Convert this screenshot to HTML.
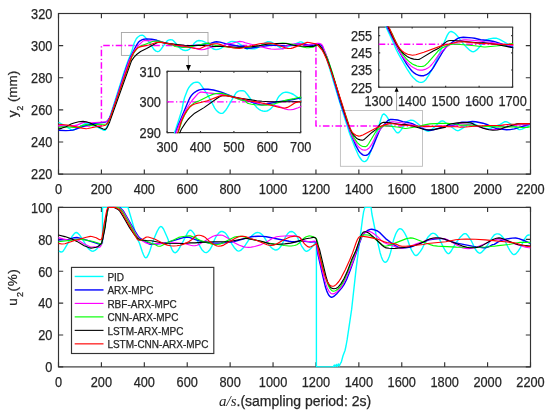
<!DOCTYPE html>
<html><head><meta charset="utf-8"><style>
html,body{margin:0;padding:0;background:#fff;}
svg{display:block;}
text{font-family:'Liberation Sans',Arial,Helvetica,sans-serif;font-size:14.3px;fill:#262626;stroke:#262626;stroke-width:0.25px;}
</style></head><body>
<svg width="550" height="414" viewBox="0 0 550 414">
<rect width="550" height="414" fill="#fff"/>
<defs><clipPath id="ct"><rect x="57.8" y="12.8" width="473.4" height="162.0"/></clipPath><clipPath id="cb"><rect x="57.8" y="206.70000000000002" width="473.4" height="160.89999999999998"/></clipPath><clipPath id="c1"><rect x="166.5" y="70.7" width="134.80" height="62.50"/></clipPath><clipPath id="c2"><rect x="378.09999999999997" y="26.5" width="135.10" height="61.30"/></clipPath></defs>
<rect x="58.5" y="13.5" width="472.0" height="160.6" fill="none" stroke="#333333" stroke-width="1.15"/>
<path d="M58.50 174.1v-4.7M58.50 13.5v4.7" stroke="#333333" stroke-width="1.15"/>
<text x="58.50" y="194.2" text-anchor="middle" textLength="7.1" lengthAdjust="spacingAndGlyphs">0</text>
<path d="M101.41 174.1v-4.7M101.41 13.5v4.7" stroke="#333333" stroke-width="1.15"/>
<text x="101.41" y="194.2" text-anchor="middle" textLength="21.3" lengthAdjust="spacingAndGlyphs">200</text>
<path d="M144.32 174.1v-4.7M144.32 13.5v4.7" stroke="#333333" stroke-width="1.15"/>
<text x="144.32" y="194.2" text-anchor="middle" textLength="21.3" lengthAdjust="spacingAndGlyphs">400</text>
<path d="M187.23 174.1v-4.7M187.23 13.5v4.7" stroke="#333333" stroke-width="1.15"/>
<text x="187.23" y="194.2" text-anchor="middle" textLength="21.3" lengthAdjust="spacingAndGlyphs">600</text>
<path d="M230.14 174.1v-4.7M230.14 13.5v4.7" stroke="#333333" stroke-width="1.15"/>
<text x="230.14" y="194.2" text-anchor="middle" textLength="21.3" lengthAdjust="spacingAndGlyphs">800</text>
<path d="M273.05 174.1v-4.7M273.05 13.5v4.7" stroke="#333333" stroke-width="1.15"/>
<text x="273.05" y="194.2" text-anchor="middle" textLength="28.4" lengthAdjust="spacingAndGlyphs">1000</text>
<path d="M315.95 174.1v-4.7M315.95 13.5v4.7" stroke="#333333" stroke-width="1.15"/>
<text x="315.95" y="194.2" text-anchor="middle" textLength="28.4" lengthAdjust="spacingAndGlyphs">1200</text>
<path d="M358.86 174.1v-4.7M358.86 13.5v4.7" stroke="#333333" stroke-width="1.15"/>
<text x="358.86" y="194.2" text-anchor="middle" textLength="28.4" lengthAdjust="spacingAndGlyphs">1400</text>
<path d="M401.77 174.1v-4.7M401.77 13.5v4.7" stroke="#333333" stroke-width="1.15"/>
<text x="401.77" y="194.2" text-anchor="middle" textLength="28.4" lengthAdjust="spacingAndGlyphs">1600</text>
<path d="M444.68 174.1v-4.7M444.68 13.5v4.7" stroke="#333333" stroke-width="1.15"/>
<text x="444.68" y="194.2" text-anchor="middle" textLength="28.4" lengthAdjust="spacingAndGlyphs">1800</text>
<path d="M487.59 174.1v-4.7M487.59 13.5v4.7" stroke="#333333" stroke-width="1.15"/>
<text x="487.59" y="194.2" text-anchor="middle" textLength="28.4" lengthAdjust="spacingAndGlyphs">2000</text>
<path d="M530.50 174.1v-4.7M530.50 13.5v4.7" stroke="#333333" stroke-width="1.15"/>
<text x="530.50" y="194.2" text-anchor="middle" textLength="28.4" lengthAdjust="spacingAndGlyphs">2200</text>
<path d="M58.5 174.10h4.7M530.5 174.10h-4.7" stroke="#333333" stroke-width="1.15"/>
<text x="52.4" y="179.40" text-anchor="end" textLength="21.3" lengthAdjust="spacingAndGlyphs">220</text>
<path d="M58.5 141.98h4.7M530.5 141.98h-4.7" stroke="#333333" stroke-width="1.15"/>
<text x="52.4" y="147.28" text-anchor="end" textLength="21.3" lengthAdjust="spacingAndGlyphs">240</text>
<path d="M58.5 109.86h4.7M530.5 109.86h-4.7" stroke="#333333" stroke-width="1.15"/>
<text x="52.4" y="115.16" text-anchor="end" textLength="21.3" lengthAdjust="spacingAndGlyphs">260</text>
<path d="M58.5 77.74h4.7M530.5 77.74h-4.7" stroke="#333333" stroke-width="1.15"/>
<text x="52.4" y="83.04" text-anchor="end" textLength="21.3" lengthAdjust="spacingAndGlyphs">280</text>
<path d="M58.5 45.62h4.7M530.5 45.62h-4.7" stroke="#333333" stroke-width="1.15"/>
<text x="52.4" y="50.92" text-anchor="end" textLength="21.3" lengthAdjust="spacingAndGlyphs">300</text>
<path d="M58.5 13.50h4.7M530.5 13.50h-4.7" stroke="#333333" stroke-width="1.15"/>
<text x="52.4" y="18.80" text-anchor="end" textLength="21.3" lengthAdjust="spacingAndGlyphs">320</text>
<text transform="translate(17.2 94) rotate(-90)" text-anchor="middle" style="font-size:13.5px">y<tspan font-size="8.5" dy="6">2</tspan><tspan dy="-6"> (mm)</tspan></text>
<g fill="none" stroke="#a4a4a4" stroke-width="0.9">
<rect x="121.4" y="32.5" width="86.6" height="22.9"/>
<rect x="340.4" y="110.5" width="82.1" height="55.8" stroke="#bcbcbc"/>
</g>
<g clip-path="url(#ct)" fill="none" stroke-width="1.3" stroke-linejoin="round">
<path d="M58.50 125.92H101.41V45.62H315.95V125.92H530.50" stroke="#ff00ff" stroke-width="1.5" stroke-dasharray="6.6 2.3 1.3 2.3"/>
<path d="M58.6 122.4L65.9 126.3L70.6 129.4L72.3 130.0L73.6 129.9L74.9 129.4L84.3 124.0L86.1 123.3L87.4 123.2L89.1 123.4L90.8 124.0L96.4 126.5L104.1 130.3L104.9 130.4L105.4 130.0L106.2 128.6L107.5 125.2L110.5 114.9L123.8 73.0L127.3 62.7L132.4 49.6L133.3 45.9L134.1 43.3L136.3 38.8L137.6 37.2L139.7 35.7L140.6 35.4L141.9 35.3L142.7 35.3L143.6 35.7L144.9 36.9L149.2 42.2L153.9 49.4L156.0 51.1L157.7 51.7L159.0 51.3L160.7 49.7L167.2 40.8L168.5 40.1L170.2 39.7L172.3 39.9L173.2 40.5L175.8 43.2L179.6 47.7L181.3 49.2L183.1 50.0L185.2 50.5L187.3 50.3L189.5 49.1L192.5 46.2L194.2 43.2L195.1 42.4L197.2 40.9L198.9 40.5L201.9 40.9L204.5 41.9L208.4 44.4L211.4 47.5L212.7 48.5L214.4 49.3L216.1 49.6L218.2 49.3L220.8 48.3L223.4 46.7L228.5 42.6L230.3 41.8L232.4 41.4L235.0 41.7L237.6 42.6L245.7 48.4L247.0 49.2L247.4 49.2L248.7 48.5L252.2 48.9L254.7 48.7L256.4 48.3L257.7 47.6L261.6 45.0L265.5 42.7L267.2 41.8L268.5 41.6L270.6 41.9L272.3 42.6L276.2 44.9L280.9 48.1L282.6 48.7L283.5 48.6L300.2 41.9L301.1 41.9L301.9 42.2L306.2 44.6L312.7 46.5L313.9 46.3L316.5 44.9L317.8 45.0L320.4 47.9L322.1 48.5L323.0 49.2L324.2 51.6L326.4 57.7L339.3 100.8L349.6 133.5L355.1 147.8L358.2 154.8L359.4 157.0L361.6 160.0L362.4 160.8L363.7 161.5L364.6 161.6L365.4 161.4L366.7 160.4L367.6 159.1L369.3 155.3L373.6 143.6L381.3 117.7L382.2 115.4L382.6 114.7L383.5 114.0L383.9 114.0L384.8 114.4L386.5 116.1L387.8 118.1L391.2 124.6L393.3 128.1L395.9 131.7L396.8 132.5L397.6 132.9L398.1 132.9L398.9 132.5L400.6 130.6L402.4 128.0L404.5 123.7L405.4 122.6L407.5 121.3L410.1 120.3L411.4 120.1L413.1 120.4L414.8 121.3L419.1 124.8L423.8 129.3L426.0 130.6L428.1 131.3L429.8 130.8L431.5 129.8L439.7 122.1L441.0 121.2L442.3 120.9L443.1 121.0L444.4 121.7L448.3 124.8L454.3 129.0L456.4 130.3L457.7 130.7L459.0 130.4L462.4 128.4L467.6 124.5L469.3 123.9L471.5 123.6L472.7 123.6L474.0 123.8L482.6 127.9L486.5 128.5L489.0 128.6L490.8 128.3L492.5 127.7L496.3 125.8L500.2 124.3L504.1 122.0L504.9 121.7L506.2 121.7L507.5 122.1L509.2 123.0L517.8 128.9L519.1 129.5L519.9 129.6L522.1 129.1L529.8 125.3" stroke="#00ffff" stroke-width="1.4"/>
<path d="M58.6 130.2L65.9 130.6L70.2 130.4L72.8 130.1L74.5 129.6L85.6 125.5L95.5 123.2L105.4 122.1L106.7 121.6L107.5 120.9L109.2 118.5L111.0 114.7L115.2 102.1L126.4 67.5L128.6 61.4L130.3 57.4L136.7 44.8L138.4 42.3L140.1 40.8L142.3 39.7L144.0 39.2L146.6 38.9L151.7 39.2L156.9 40.3L165.0 42.9L172.8 44.5L181.8 46.9L183.5 47.1L194.6 45.4L201.5 44.7L208.4 43.4L211.0 43.1L214.8 42.0L216.5 41.8L220.0 42.1L226.4 43.9L238.8 46.3L243.6 46.2L244.0 46.3L244.9 48.1L245.7 48.2L251.3 48.0L269.7 45.3L275.8 45.3L284.3 46.0L286.1 45.9L292.9 44.6L298.5 43.9L312.7 45.2L313.9 45.1L316.5 44.1L317.8 43.9L319.1 44.2L320.4 44.7L321.7 45.7L322.5 46.9L325.5 53.7L327.3 58.3L330.7 69.0L340.6 103.2L350.0 130.9L352.6 137.8L356.0 145.9L358.6 150.7L359.9 152.4L361.2 153.6L362.9 154.9L364.2 155.4L365.9 155.4L367.2 155.0L368.5 154.0L369.7 152.5L371.0 150.5L372.3 148.0L378.8 132.2L380.5 128.7L381.8 127.1L387.3 121.1L389.1 119.9L390.3 119.5L392.1 119.4L397.6 120.0L402.8 121.6L406.2 122.1L410.5 123.1L412.2 123.7L421.2 128.1L426.0 129.7L429.4 130.3L431.1 130.2L433.3 129.8L442.3 127.1L453.4 125.0L457.3 123.8L459.9 122.6L462.0 122.3L467.2 122.2L472.3 121.5L475.7 121.7L483.0 123.2L486.9 124.5L492.9 127.4L495.5 128.2L506.6 129.8L510.1 129.6L514.4 128.9L529.8 124.2" stroke="#0000ff" stroke-width="1.4"/>
<path d="M58.6 125.6L72.8 126.1L77.5 124.9L81.8 123.1L83.9 122.5L86.1 122.4L90.4 122.7L103.2 122.0L106.7 121.5L108.0 120.7L109.7 118.1L111.4 114.0L126.0 69.6L129.4 60.0L134.1 51.1L138.4 45.3L142.7 41.3L143.6 40.7L144.9 40.4L159.9 41.8L167.2 43.6L172.8 45.2L173.2 45.2L174.5 44.7L178.8 45.8L182.6 46.5L191.6 47.4L195.1 48.1L198.9 49.4L201.5 49.8L204.5 49.4L210.5 47.5L212.7 47.0L216.5 46.4L221.7 46.1L226.4 44.1L232.4 43.2L237.6 41.7L239.7 41.4L242.7 41.7L245.3 42.8L267.6 48.4L271.0 49.0L274.9 49.3L281.8 48.9L284.3 48.4L285.2 48.1L286.5 46.4L287.3 45.7L290.3 44.5L292.9 44.0L296.8 43.8L299.8 43.9L304.1 45.0L305.8 45.2L307.9 44.9L312.7 43.9L317.8 43.3L319.1 43.4L321.2 44.1L322.1 44.9L323.0 46.6L327.3 57.8L331.5 71.4L342.3 107.1L347.9 124.5L350.9 133.2L352.1 136.2L354.3 140.4L357.3 145.3L358.6 146.8L360.3 148.4L362.0 149.6L363.3 150.0L365.0 150.1L366.7 149.7L368.5 148.6L369.7 147.3L371.9 144.2L375.3 136.9L377.5 133.2L379.6 130.1L381.8 127.6L383.9 125.8L386.9 123.8L389.9 122.4L392.1 121.8L393.3 121.7L403.2 123.0L404.9 123.7L408.4 124.0L410.9 124.5L417.8 126.3L420.8 126.8L424.2 127.0L438.0 126.3L441.4 126.3L444.8 125.9L448.7 126.1L454.3 126.0L457.3 125.6L459.9 123.6L462.0 123.8L473.2 125.1L486.5 129.0L489.0 129.5L496.8 129.4L498.9 129.3L500.6 128.9L504.5 127.5L516.1 125.2L521.2 124.7L526.8 124.7L529.8 124.2" stroke="#ff00ff" stroke-width="1.15"/>
<path d="M58.6 127.3L62.0 126.9L65.0 126.8L73.6 127.4L76.2 127.4L77.9 127.2L81.8 125.7L86.1 124.6L87.4 124.7L89.5 125.4L90.8 125.6L96.4 124.4L104.9 124.3L106.2 124.0L107.1 123.5L108.8 121.1L111.0 116.3L130.3 61.0L132.0 56.5L133.7 53.1L135.4 50.6L137.1 48.6L138.4 47.4L140.1 46.2L152.6 41.5L154.3 41.2L156.9 41.0L158.2 41.1L163.7 42.5L170.2 44.6L172.8 44.9L174.5 46.3L175.3 46.5L178.3 47.0L182.6 47.2L187.3 47.3L189.5 47.1L199.4 44.7L208.4 43.1L210.5 44.2L215.7 45.4L221.3 46.4L233.7 47.8L248.3 47.2L259.4 45.7L266.7 44.2L274.0 43.8L282.6 43.0L286.1 43.2L290.8 44.0L295.5 45.0L303.6 47.2L306.7 47.8L308.8 47.7L312.7 47.1L317.4 45.5L318.2 45.5L319.1 45.8L321.2 47.8L323.4 50.8L326.8 57.0L328.5 61.1L332.4 72.7L341.4 103.3L346.6 117.7L350.0 128.7L351.7 133.1L354.3 138.2L357.3 142.6L359.9 145.0L361.6 146.0L362.9 146.5L365.4 146.6L366.3 146.3L367.2 145.7L368.9 143.2L375.3 132.5L376.6 130.7L377.9 129.5L382.2 126.6L383.0 126.2L384.3 125.9L386.0 125.8L388.2 126.0L398.9 127.3L404.9 128.5L405.8 128.5L416.9 126.8L420.0 126.2L423.4 125.1L429.8 123.9L441.0 123.4L447.4 123.3L457.3 124.3L459.9 125.1L466.7 125.1L471.9 125.3L481.3 126.2L496.3 126.9L516.1 126.9L520.8 127.4L523.8 127.5L527.2 127.4L529.8 126.9" stroke="#00ff00" stroke-width="1.15"/>
<path d="M58.6 129.1L62.0 128.1L65.5 126.9L71.0 124.1L74.0 123.0L78.8 121.8L83.1 121.4L86.1 121.7L89.5 122.7L96.8 126.3L103.2 129.0L104.9 129.4L105.8 129.0L106.7 128.1L107.5 126.8L109.7 121.9L131.6 60.6L134.1 57.2L136.3 54.8L140.6 51.5L146.6 48.6L156.0 43.2L157.7 42.5L159.5 42.2L169.3 43.6L184.3 45.3L188.6 45.5L208.4 45.5L213.1 46.5L218.7 46.5L223.4 46.2L236.7 47.3L243.6 47.3L245.7 47.0L251.7 46.8L259.0 45.7L268.0 44.0L273.2 43.5L286.1 43.5L293.3 45.2L300.2 46.0L307.5 46.5L313.1 46.4L317.0 44.8L317.8 44.7L318.7 44.9L320.4 46.4L322.1 48.8L326.4 57.6L329.0 64.1L334.5 80.6L346.6 119.8L349.6 127.7L351.7 132.2L353.0 134.2L354.3 135.9L356.0 137.7L357.3 138.7L358.6 139.4L360.3 139.9L362.4 140.2L363.7 139.8L372.3 132.2L376.2 129.4L379.6 124.8L380.9 123.4L382.2 122.7L383.5 122.4L385.2 122.4L389.5 122.8L401.1 124.6L404.9 124.4L412.7 126.0L424.2 129.5L428.1 130.0L433.7 129.6L444.8 127.4L445.7 127.0L447.4 125.2L448.3 124.7L451.7 123.8L457.3 122.9L468.0 122.5L470.2 122.7L471.5 123.1L474.5 124.7L483.9 128.4L489.0 129.8L492.9 130.2L497.2 130.0L499.8 129.5L504.5 127.5L516.9 123.9L519.9 123.6L529.8 123.6" stroke="#000000" stroke-width="1.1"/>
<path d="M58.6 124.2L67.2 125.0L82.2 128.1L86.1 128.7L87.8 128.5L96.4 126.8L103.2 125.8L105.4 125.2L106.2 124.6L107.1 123.7L108.4 121.7L110.5 116.9L130.3 60.2L132.0 55.9L133.7 52.7L135.0 50.9L136.7 48.8L137.6 48.1L139.3 47.1L141.0 46.6L148.7 45.0L156.4 42.5L159.0 42.2L161.2 42.4L172.8 44.2L174.5 45.0L179.2 45.4L183.1 46.0L195.1 48.5L197.6 48.8L199.4 48.7L200.7 48.3L205.4 45.9L207.9 45.5L211.8 44.1L214.8 43.7L217.4 43.8L220.0 44.4L225.5 46.5L235.4 48.2L239.3 48.4L241.4 48.2L243.6 47.7L245.3 46.7L251.7 45.8L259.4 43.8L266.3 43.0L270.2 43.1L273.6 43.6L277.0 44.7L285.6 48.0L287.3 48.4L289.1 48.5L291.2 48.4L292.9 47.9L307.1 42.4L309.2 42.5L315.2 43.7L316.5 44.2L318.2 45.5L322.1 50.0L324.2 53.9L326.4 58.7L330.7 70.1L335.0 82.3L342.3 104.4L347.0 119.9L348.7 124.8L350.4 128.9L351.7 131.3L353.4 133.5L356.0 135.2L358.6 136.1L360.3 135.9L362.9 135.0L376.2 128.1L378.3 127.1L385.6 124.6L389.9 123.6L392.9 123.7L403.2 125.2L404.9 125.2L411.4 125.7L423.0 126.3L445.3 126.3L447.8 126.7L457.3 126.7L460.3 127.3L465.9 127.0L474.0 126.2L487.3 125.5L500.6 125.4L504.5 124.8L510.5 124.2L515.7 124.2L520.8 123.6L529.8 123.6" stroke="#ff0000" stroke-width="1.15"/>
</g>
<rect x="167.1" y="71.3" width="133.60" height="61.30" fill="#fff" stroke="#333333" stroke-width="1.15"/>
<path d="M167.10 132.6v-1.5M167.10 71.3v1.5" stroke="#333333" stroke-width="1.15"/>
<text x="167.10" y="151.8" text-anchor="middle" textLength="21.3" lengthAdjust="spacingAndGlyphs">300</text>
<path d="M200.50 132.6v-1.5M200.50 71.3v1.5" stroke="#333333" stroke-width="1.15"/>
<text x="200.50" y="151.8" text-anchor="middle" textLength="21.3" lengthAdjust="spacingAndGlyphs">400</text>
<path d="M233.90 132.6v-1.5M233.90 71.3v1.5" stroke="#333333" stroke-width="1.15"/>
<text x="233.90" y="151.8" text-anchor="middle" textLength="21.3" lengthAdjust="spacingAndGlyphs">500</text>
<path d="M267.30 132.6v-1.5M267.30 71.3v1.5" stroke="#333333" stroke-width="1.15"/>
<text x="267.30" y="151.8" text-anchor="middle" textLength="21.3" lengthAdjust="spacingAndGlyphs">600</text>
<path d="M300.70 132.6v-1.5M300.70 71.3v1.5" stroke="#333333" stroke-width="1.15"/>
<text x="300.70" y="151.8" text-anchor="middle" textLength="21.3" lengthAdjust="spacingAndGlyphs">700</text>
<path d="M167.1 132.60h1.5M300.7 132.60h-1.5" stroke="#333333" stroke-width="1.15"/>
<text x="160.9" y="137.90" text-anchor="end" textLength="21.3" lengthAdjust="spacingAndGlyphs">290</text>
<path d="M167.1 101.95h1.5M300.7 101.95h-1.5" stroke="#333333" stroke-width="1.15"/>
<text x="160.9" y="107.25" text-anchor="end" textLength="21.3" lengthAdjust="spacingAndGlyphs">300</text>
<path d="M167.1 71.30h1.5M300.7 71.30h-1.5" stroke="#333333" stroke-width="1.15"/>
<text x="160.9" y="76.60" text-anchor="end" textLength="21.3" lengthAdjust="spacingAndGlyphs">310</text>
<g clip-path="url(#c1)" fill="none" stroke-width="1.3" stroke-linejoin="round">
<path d="M167.1 101.95H300.7" stroke="#ff00ff" stroke-dasharray="6.6 2.3 1.3 2.3"/>
<path d="M163.9 172.1L174.0 134.6L179.3 118.3L182.0 109.5L183.3 102.4L184.6 97.5L187.3 90.4L188.7 87.7L190.7 85.1L192.7 83.4L194.0 82.6L196.0 82.2L198.0 82.3L198.7 82.5L200.0 83.6L202.0 86.3L207.4 94.3L210.7 100.3L214.7 108.1L216.0 109.9L218.0 111.9L219.4 112.9L220.7 113.4L222.1 113.4L223.4 112.8L226.1 109.7L227.4 107.6L234.8 94.8L236.1 92.8L236.8 92.2L238.1 91.4L239.4 90.9L240.8 90.7L243.4 90.8L244.8 91.4L247.4 94.5L254.8 105.0L256.8 107.5L259.5 109.7L260.8 110.4L262.8 111.0L264.8 111.2L266.8 111.0L268.2 110.5L270.2 109.2L272.8 106.5L275.5 103.0L277.5 98.7L278.8 96.6L280.8 94.5L282.2 93.4L283.5 92.7L284.9 92.3L286.9 92.3L289.5 92.8L291.5 93.5L293.5 94.5L296.9 96.8L299.6 99.0L300.9 100.4L303.6 103.8" stroke="#00ffff" stroke-width="1.4"/>
<path d="M163.9 176.5L174.6 136.6L176.6 130.0L178.6 124.5L188.7 100.3L190.0 97.6L191.3 95.6L192.7 94.0L194.7 92.3L196.7 91.0L199.3 89.9L203.3 89.1L208.0 89.3L213.4 90.0L221.4 92.2L232.7 96.7L244.8 99.8L258.8 104.4L261.5 104.9L262.8 104.8L278.8 101.6L287.5 100.5L294.2 99.2L300.2 97.7L303.6 97.3" stroke="#0000ff" stroke-width="1.4"/>
<path d="M163.9 177.9L175.3 135.6L176.6 131.3L178.6 126.1L184.0 113.8L186.6 108.8L192.0 100.5L198.0 93.6L199.3 92.6L200.7 92.1L202.0 92.1L208.0 92.9L224.1 94.6L226.7 95.2L236.1 98.1L240.8 99.9L244.1 101.0L245.4 101.2L247.4 100.2L254.1 102.3L260.1 103.7L264.1 104.3L270.8 104.8L274.2 105.3L278.8 106.4L284.9 108.9L288.2 109.7L290.9 109.8L293.5 109.4L298.2 107.8L303.6 105.5" stroke="#ff00ff" stroke-width="1.15"/>
<path d="M163.9 182.9L178.6 131.3L182.0 120.8L184.6 115.0L188.0 109.5L190.7 106.0L192.7 104.1L194.0 103.1L195.3 102.4L199.3 100.8L209.4 95.8L213.4 94.1L216.0 93.5L219.4 93.2L222.1 93.4L230.7 96.0L240.8 99.9L244.8 100.7L245.4 101.0L247.4 103.2L251.5 104.3L254.8 104.7L266.2 105.1L270.2 104.8L274.8 103.7L286.2 100.1L294.2 98.6L299.6 97.2L300.2 97.1L300.9 97.4L303.6 99.3" stroke="#00ff00" stroke-width="1.15"/>
<path d="M163.9 187.8L180.0 132.4L181.3 129.2L185.3 123.1L188.0 119.5L190.0 117.4L194.7 113.2L204.0 107.6L218.7 97.3L220.7 96.3L222.1 95.8L224.7 95.5L238.8 98.0L256.8 100.7L262.1 101.3L269.5 101.7L300.2 101.7L303.6 102.5" stroke="#000000" stroke-width="1.1"/>
<path d="M163.9 181.6L178.0 132.1L181.3 121.5L184.0 115.5L186.6 110.9L189.3 107.3L192.0 105.2L194.7 104.0L207.4 100.7L219.4 96.1L222.7 95.4L226.1 95.6L244.8 99.3L245.4 99.5L247.4 100.7L254.8 101.6L260.8 102.8L270.8 105.1L279.5 107.5L282.9 108.0L285.5 107.9L287.5 107.4L290.9 105.6L295.5 102.6L299.6 101.8L303.6 99.8" stroke="#ff0000" stroke-width="1.15"/>
</g>
<rect x="378.7" y="27.1" width="133.90" height="60.10" fill="#fff" stroke="#333333" stroke-width="1.15"/>
<path d="M378.70 87.2v-1.5M378.70 27.1v1.5" stroke="#333333" stroke-width="1.15"/>
<text x="378.70" y="106.4" text-anchor="middle" textLength="28.4" lengthAdjust="spacingAndGlyphs">1300</text>
<path d="M412.18 87.2v-1.5M412.18 27.1v1.5" stroke="#333333" stroke-width="1.15"/>
<text x="412.18" y="106.4" text-anchor="middle" textLength="28.4" lengthAdjust="spacingAndGlyphs">1400</text>
<path d="M445.65 87.2v-1.5M445.65 27.1v1.5" stroke="#333333" stroke-width="1.15"/>
<text x="445.65" y="106.4" text-anchor="middle" textLength="28.4" lengthAdjust="spacingAndGlyphs">1500</text>
<path d="M479.12 87.2v-1.5M479.12 27.1v1.5" stroke="#333333" stroke-width="1.15"/>
<text x="479.12" y="106.4" text-anchor="middle" textLength="28.4" lengthAdjust="spacingAndGlyphs">1600</text>
<path d="M512.60 87.2v-1.5M512.60 27.1v1.5" stroke="#333333" stroke-width="1.15"/>
<text x="512.60" y="106.4" text-anchor="middle" textLength="28.4" lengthAdjust="spacingAndGlyphs">1700</text>
<path d="M378.7 87.20h1.5M512.6 87.20h-1.5" stroke="#333333" stroke-width="1.15"/>
<text x="372.2" y="92.50" text-anchor="end" textLength="21.3" lengthAdjust="spacingAndGlyphs">225</text>
<path d="M378.7 70.03h1.5M512.6 70.03h-1.5" stroke="#333333" stroke-width="1.15"/>
<text x="372.2" y="75.33" text-anchor="end" textLength="21.3" lengthAdjust="spacingAndGlyphs">235</text>
<path d="M378.7 52.86h1.5M512.6 52.86h-1.5" stroke="#333333" stroke-width="1.15"/>
<text x="372.2" y="58.16" text-anchor="end" textLength="21.3" lengthAdjust="spacingAndGlyphs">245</text>
<path d="M378.7 35.69h1.5M512.6 35.69h-1.5" stroke="#333333" stroke-width="1.15"/>
<text x="372.2" y="40.99" text-anchor="end" textLength="21.3" lengthAdjust="spacingAndGlyphs">255</text>
<g clip-path="url(#c2)" fill="none" stroke-width="1.3" stroke-linejoin="round">
<path d="M378.7 44.27H512.6" stroke="#ff00ff" stroke-dasharray="6.6 2.3 1.3 2.3"/>
<path d="M375.6 3.6L384.3 23.4L392.3 40.3L396.3 49.7L399.0 54.9L407.0 68.8L411.1 75.1L413.1 77.5L415.8 80.1L417.1 81.2L419.1 82.1L420.4 82.4L421.8 82.4L423.8 81.6L425.8 79.7L428.5 75.7L432.5 68.5L435.2 63.2L447.2 35.4L448.6 33.1L449.2 32.3L450.6 31.5L451.2 31.5L452.6 32.0L453.9 32.7L455.3 33.8L457.3 35.9L462.6 42.9L465.3 45.9L470.0 50.4L472.0 51.6L473.3 51.7L474.0 51.6L475.3 50.9L476.7 49.9L480.0 46.5L483.4 41.9L484.7 40.8L486.1 40.0L488.1 39.3L493.4 38.1L496.1 38.2L499.5 39.3L506.1 43.0L512.8 47.6L515.5 48.8" stroke="#00ffff" stroke-width="1.4"/>
<path d="M375.6 1.1L380.9 14.0L385.0 22.8L392.3 37.1L398.3 49.6L402.4 57.0L407.0 64.7L411.1 70.1L412.4 71.5L414.4 73.1L416.4 74.3L418.4 75.2L421.1 75.8L423.8 75.7L426.5 74.7L429.1 72.7L431.2 70.6L433.2 67.9L443.2 51.0L445.9 47.3L447.9 45.5L455.9 39.6L457.9 38.4L459.9 37.6L463.3 37.3L472.0 37.9L474.7 38.3L480.7 39.7L486.1 40.2L492.8 41.2L495.4 41.9L508.2 46.2L515.5 48.0" stroke="#0000ff" stroke-width="1.4"/>
<path d="M375.6 -0.2L387.0 25.6L395.0 42.8L399.7 52.1L401.7 55.3L404.4 58.9L407.0 62.2L409.1 64.3L411.1 66.1L413.1 67.5L417.1 69.6L419.8 70.1L422.4 70.1L425.1 69.4L427.8 68.1L429.8 66.6L431.8 64.5L433.8 62.0L438.5 55.2L442.5 50.6L445.2 48.1L448.6 45.6L452.6 43.5L456.6 41.8L461.3 40.4L464.0 39.9L466.0 39.8L481.4 41.1L484.1 41.9L489.4 42.3L493.4 42.8L504.8 44.8L510.2 45.3L515.5 45.5" stroke="#ff00ff" stroke-width="1.15"/>
<path d="M375.6 -1.7L380.9 11.1L385.0 20.1L387.6 25.5L392.3 34.1L397.7 45.9L400.4 50.8L403.7 55.7L406.4 58.9L408.4 60.9L410.4 62.6L412.4 63.9L414.4 64.9L417.1 66.0L419.1 66.4L421.8 66.5L423.8 66.1L425.1 65.4L427.8 62.8L437.8 51.3L439.9 49.4L441.9 48.1L447.9 45.3L449.9 44.5L453.3 44.2L457.3 44.3L474.7 45.8L484.1 47.0L485.4 47.0L503.5 45.2L515.5 43.0" stroke="#00ff00" stroke-width="1.15"/>
<path d="M375.6 -1.3L392.3 36.3L396.3 44.0L399.7 49.2L403.0 53.2L407.0 56.4L409.1 57.6L411.1 58.4L413.7 59.1L417.1 59.5L418.4 59.5L419.8 59.1L433.2 51.0L439.2 47.9L441.2 46.3L444.5 43.1L446.6 41.6L448.6 40.8L450.6 40.5L453.3 40.5L459.9 41.0L478.0 42.9L484.1 42.7L495.4 44.2L515.5 48.3" stroke="#000000" stroke-width="1.1"/>
<path d="M375.6 -1.0L387.0 22.7L393.7 37.8L397.0 44.2L399.7 48.4L402.4 51.3L404.4 52.7L407.7 54.2L412.4 55.2L415.8 54.7L423.8 52.2L441.2 45.9L453.3 43.0L459.9 41.8L464.6 41.9L481.4 43.5L484.1 43.5L494.8 44.1L515.5 44.6" stroke="#ff0000" stroke-width="1.15"/>
</g>
<path d="M188.4 55.5V65.5M396.6 91.5V110.5" stroke="#a0a0a0" stroke-width="1"/>
<path d="M186 65L190.9 65L188.4 71Z M394.6 91.8L398.6 91.8L396.6 87Z" fill="#000"/>
<rect x="58.5" y="207.4" width="472.0" height="159.49999999999997" fill="none" stroke="#333333" stroke-width="1.15"/>
<path d="M58.50 366.9v-4.7M58.50 207.4v4.7" stroke="#333333" stroke-width="1.15"/>
<text x="58.50" y="387.2" text-anchor="middle" textLength="7.1" lengthAdjust="spacingAndGlyphs">0</text>
<path d="M101.41 366.9v-4.7M101.41 207.4v4.7" stroke="#333333" stroke-width="1.15"/>
<text x="101.41" y="387.2" text-anchor="middle" textLength="21.3" lengthAdjust="spacingAndGlyphs">200</text>
<path d="M144.32 366.9v-4.7M144.32 207.4v4.7" stroke="#333333" stroke-width="1.15"/>
<text x="144.32" y="387.2" text-anchor="middle" textLength="21.3" lengthAdjust="spacingAndGlyphs">400</text>
<path d="M187.23 366.9v-4.7M187.23 207.4v4.7" stroke="#333333" stroke-width="1.15"/>
<text x="187.23" y="387.2" text-anchor="middle" textLength="21.3" lengthAdjust="spacingAndGlyphs">600</text>
<path d="M230.14 366.9v-4.7M230.14 207.4v4.7" stroke="#333333" stroke-width="1.15"/>
<text x="230.14" y="387.2" text-anchor="middle" textLength="21.3" lengthAdjust="spacingAndGlyphs">800</text>
<path d="M273.05 366.9v-4.7M273.05 207.4v4.7" stroke="#333333" stroke-width="1.15"/>
<text x="273.05" y="387.2" text-anchor="middle" textLength="28.4" lengthAdjust="spacingAndGlyphs">1000</text>
<path d="M315.95 366.9v-4.7M315.95 207.4v4.7" stroke="#333333" stroke-width="1.15"/>
<text x="315.95" y="387.2" text-anchor="middle" textLength="28.4" lengthAdjust="spacingAndGlyphs">1200</text>
<path d="M358.86 366.9v-4.7M358.86 207.4v4.7" stroke="#333333" stroke-width="1.15"/>
<text x="358.86" y="387.2" text-anchor="middle" textLength="28.4" lengthAdjust="spacingAndGlyphs">1400</text>
<path d="M401.77 366.9v-4.7M401.77 207.4v4.7" stroke="#333333" stroke-width="1.15"/>
<text x="401.77" y="387.2" text-anchor="middle" textLength="28.4" lengthAdjust="spacingAndGlyphs">1600</text>
<path d="M444.68 366.9v-4.7M444.68 207.4v4.7" stroke="#333333" stroke-width="1.15"/>
<text x="444.68" y="387.2" text-anchor="middle" textLength="28.4" lengthAdjust="spacingAndGlyphs">1800</text>
<path d="M487.59 366.9v-4.7M487.59 207.4v4.7" stroke="#333333" stroke-width="1.15"/>
<text x="487.59" y="387.2" text-anchor="middle" textLength="28.4" lengthAdjust="spacingAndGlyphs">2000</text>
<path d="M530.50 366.9v-4.7M530.50 207.4v4.7" stroke="#333333" stroke-width="1.15"/>
<text x="530.50" y="387.2" text-anchor="middle" textLength="28.4" lengthAdjust="spacingAndGlyphs">2200</text>
<path d="M58.5 366.90h4.7M530.5 366.90h-4.7" stroke="#333333" stroke-width="1.15"/>
<text x="52.4" y="372.20" text-anchor="end" textLength="7.1" lengthAdjust="spacingAndGlyphs">0</text>
<path d="M58.5 335.00h4.7M530.5 335.00h-4.7" stroke="#333333" stroke-width="1.15"/>
<text x="52.4" y="340.30" text-anchor="end" textLength="14.2" lengthAdjust="spacingAndGlyphs">20</text>
<path d="M58.5 303.10h4.7M530.5 303.10h-4.7" stroke="#333333" stroke-width="1.15"/>
<text x="52.4" y="308.40" text-anchor="end" textLength="14.2" lengthAdjust="spacingAndGlyphs">40</text>
<path d="M58.5 271.20h4.7M530.5 271.20h-4.7" stroke="#333333" stroke-width="1.15"/>
<text x="52.4" y="276.50" text-anchor="end" textLength="14.2" lengthAdjust="spacingAndGlyphs">60</text>
<path d="M58.5 239.30h4.7M530.5 239.30h-4.7" stroke="#333333" stroke-width="1.15"/>
<text x="52.4" y="244.60" text-anchor="end" textLength="14.2" lengthAdjust="spacingAndGlyphs">80</text>
<path d="M58.5 207.40h4.7M530.5 207.40h-4.7" stroke="#333333" stroke-width="1.15"/>
<text x="52.4" y="212.70" text-anchor="end" textLength="21.3" lengthAdjust="spacingAndGlyphs">100</text>
<text transform="translate(17.2 287.2) rotate(-90)" text-anchor="middle" style="font-size:13.5px;letter-spacing:0.6px">u<tspan font-size="9" dy="6" dx="0.6">2</tspan><tspan dy="-6">(%)</tspan></text>
<text x="219" y="405.5" style="font-size:14px"><tspan style="font-family:'Liberation Serif',serif;font-style:italic;font-size:15px;stroke-width:0">a/s</tspan>.(sampling period: 2s)</text>
<g clip-path="url(#cb)" fill="none" stroke-width="1.3" stroke-linejoin="round">
<path d="M59.0 250.9L60.1 251.7L61.2 252.0L62.0 251.9L62.9 251.3L64.6 248.9L69.4 240.6L72.6 235.7L74.5 233.4L75.4 232.7L76.3 232.5L77.6 233.0L79.3 234.7L82.1 238.7L86.8 246.5L88.6 248.7L90.1 250.1L91.8 251.1L93.3 251.2L95.0 250.4L96.7 249.0L98.5 247.0L100.8 243.7L101.7 243.0L102.5 243.0L102.5 207.4L127.9 207.4L128.3 208.4L133.9 227.5L137.5 239.1L139.5 243.2L142.3 251.7L143.6 255.0L144.6 256.9L145.3 257.6L145.7 257.7L146.3 257.6L147.0 257.1L148.5 254.4L149.8 251.0L153.2 240.5L157.1 231.4L159.0 228.0L159.9 227.0L160.7 226.5L161.4 226.6L162.0 227.0L163.5 229.0L167.2 237.2L171.9 249.3L173.4 251.8L174.2 252.5L174.9 252.7L175.5 252.7L176.4 252.2L178.1 250.3L183.0 241.7L187.8 232.4L189.1 230.7L190.1 230.2L191.0 230.3L191.8 230.9L192.9 232.1L194.0 233.7L195.9 237.3L199.6 245.7L201.7 249.4L203.9 251.7L204.9 252.4L206.0 252.6L206.9 252.5L207.9 251.8L209.9 249.7L211.6 246.7L214.8 239.1L216.1 236.5L218.7 233.1L220.0 232.0L221.0 231.5L222.1 231.5L223.4 231.8L224.7 232.6L226.0 233.8L227.7 236.2L231.8 243.8L234.3 247.7L236.7 250.3L237.8 250.9L238.6 251.1L239.5 250.9L240.6 250.4L242.9 248.2L245.3 245.2L249.8 238.3L252.4 235.3L254.9 233.3L256.2 232.7L257.5 232.5L258.8 232.6L260.1 233.2L261.4 234.1L262.9 235.6L264.6 237.8L268.5 244.4L271.5 247.8L273.0 248.9L274.5 249.7L275.8 250.0L277.1 249.8L279.0 248.6L281.1 246.0L282.4 243.7L285.6 236.6L287.6 233.8L288.9 232.5L290.1 231.7L291.4 231.5L292.7 231.8L294.4 233.0L296.2 235.1L297.4 237.3L301.5 245.8L304.1 249.7L305.0 250.6L305.8 251.1L306.5 251.3L307.1 251.2L308.8 250.3L310.5 248.7L313.5 245.4L315.5 242.4L315.7 242.4L315.9 243.0L316.4 243.0L316.4 366.9L333.3 366.9L334.3 365.0L335.3 366.6L336.3 364.5L337.3 366.4L338.3 364.0L339.3 365.9L340.3 363.7L341.3 362.1L343.0 355.8L345.0 350.5L346.0 346.0L347.1 339.9L351.6 309.7L356.1 268.9L362.6 218.2L363.6 211.9L364.9 207.4L370.8 207.4L371.1 207.9L371.9 214.0L376.4 236.5L380.1 252.7L381.4 256.9L382.6 259.8L383.9 261.6L385.2 262.3L386.1 262.1L387.2 261.0L388.2 259.1L389.3 256.5L390.6 252.4L393.8 239.2L395.7 234.0L396.8 231.8L397.9 230.1L399.0 229.1L399.8 228.7L400.9 228.9L402.2 229.7L403.2 230.9L404.5 232.8L406.7 237.1L410.1 246.9L411.8 250.7L414.0 254.2L415.0 255.2L415.9 255.5L417.0 255.2L418.0 254.4L420.4 251.4L422.6 247.8L426.4 239.7L428.3 236.7L430.5 234.4L431.6 233.7L432.6 233.3L433.9 233.4L435.0 233.8L436.3 234.9L437.6 236.3L439.7 239.6L443.6 247.7L445.3 250.7L447.0 252.9L447.9 253.5L448.5 253.7L449.4 253.3L450.7 251.8L455.2 244.0L459.9 237.6L462.5 234.9L463.7 234.0L464.8 233.6L465.5 233.6L466.3 234.0L468.0 235.8L471.5 241.2L475.5 249.5L477.7 252.2L478.8 252.9L479.6 253.2L480.5 253.0L481.6 252.3L484.8 248.9L488.0 244.4L492.3 237.4L494.0 235.2L495.3 234.3L496.6 233.9L498.1 233.9L499.4 234.2L501.3 235.5L503.2 237.7L504.7 240.2L508.2 247.5L510.1 250.8L512.2 253.6L513.1 254.3L513.9 254.6L515.0 254.3L516.1 253.6L518.5 250.7L520.6 247.3L524.2 239.5L526.0 236.8L526.8 235.9L527.9 235.2L528.8 235.0L529.8 235.0" stroke="#00ffff" stroke-width="1.4"/>
<path d="M58.4 240.0L68.3 239.4L70.0 239.0L74.3 237.7L76.9 237.5L80.7 238.4L92.3 241.9L99.2 244.2L100.5 244.8L100.9 244.8L101.4 244.3L101.8 243.2L102.6 239.4L105.2 223.4L106.9 213.9L108.2 208.2L108.7 207.4L119.8 207.4L122.4 209.9L123.7 211.5L134.9 231.0L138.3 236.4L139.6 237.7L141.7 239.3L147.3 242.4L148.2 242.9L149.0 243.9L149.9 244.2L152.0 244.3L155.9 244.1L164.9 243.0L167.5 242.4L184.2 237.4L186.8 237.0L189.4 237.4L195.4 239.6L203.1 241.8L208.7 242.7L215.2 243.1L221.2 243.0L233.2 241.9L250.8 236.8L253.4 236.5L258.1 236.3L262.8 236.4L266.3 236.8L289.0 241.3L291.6 241.7L294.6 241.8L299.3 241.3L303.2 241.1L310.5 242.0L314.4 241.7L315.6 241.9L316.1 242.0L316.5 243.6L317.8 253.7L323.0 276.9L325.5 287.3L326.8 291.1L328.5 294.7L329.8 296.4L330.7 297.0L331.5 297.2L332.4 297.1L333.7 296.4L337.1 293.4L341.8 287.9L344.0 284.7L346.6 279.5L350.0 270.8L353.4 261.3L359.5 243.0L361.6 237.4L363.3 234.3L365.0 232.4L367.6 230.5L370.2 229.4L371.5 229.2L373.2 229.5L375.3 230.1L377.5 231.0L380.1 232.9L385.6 238.6L392.5 243.8L395.5 245.7L397.7 246.8L399.8 247.6L402.0 248.0L405.4 247.9L410.6 247.1L429.0 239.9L434.6 239.0L439.3 238.5L441.9 238.6L444.1 239.0L450.1 241.1L455.6 242.9L473.3 246.4L483.6 247.8L485.3 247.7L487.0 247.3L489.1 246.5L492.6 244.6L494.3 244.4L498.2 241.8L502.5 240.0L506.8 238.9L512.3 238.1L515.8 238.0L518.8 238.6L523.9 240.5L530.4 243.4" stroke="#0000ff" stroke-width="1.4"/>
<path d="M58.4 237.6L62.7 238.9L68.3 240.1L70.4 240.1L74.7 239.5L76.9 239.7L79.0 240.7L83.3 243.4L86.3 245.0L90.2 246.8L91.9 247.0L96.2 246.7L98.4 247.3L99.6 247.2L100.5 246.5L100.9 245.8L101.8 243.7L102.2 242.0L106.9 213.7L108.2 207.4L118.5 207.4L121.5 209.7L123.3 211.8L135.7 233.5L137.9 236.9L139.6 238.7L143.0 241.3L146.0 243.0L148.2 243.6L151.2 243.4L152.9 244.2L153.3 244.2L156.8 243.5L161.5 243.5L169.6 242.8L175.7 242.7L184.2 243.5L190.7 245.3L192.8 245.7L195.0 245.7L197.1 245.2L199.7 244.1L213.0 236.3L216.0 235.4L220.3 235.0L222.5 235.3L224.6 236.2L228.9 238.8L234.9 243.0L238.8 245.0L243.9 246.9L246.1 247.3L248.7 247.4L251.2 247.1L254.7 246.5L261.1 244.6L265.8 242.4L273.1 238.1L276.6 236.8L280.4 236.3L289.0 235.8L294.2 235.8L295.9 236.0L299.8 237.3L302.3 239.9L303.6 240.7L306.2 241.2L310.5 241.7L314.4 241.0L315.2 241.2L316.1 241.7L316.5 242.8L318.2 252.9L320.4 262.3L323.8 276.6L326.0 284.4L327.2 287.9L329.0 291.3L330.7 293.2L331.5 293.7L332.4 293.9L333.3 293.9L334.5 293.4L337.1 291.7L341.0 287.5L342.7 285.0L346.6 276.9L352.2 263.5L354.3 257.5L359.0 243.2L361.2 237.7L362.5 235.3L363.7 233.7L365.5 232.4L367.6 231.5L368.9 231.4L369.8 231.5L371.9 232.6L374.5 234.2L377.1 236.2L381.8 240.9L383.9 242.5L387.4 243.9L396.4 247.0L401.1 248.2L403.7 248.0L410.1 246.2L417.0 243.6L423.0 241.7L427.3 239.9L429.5 239.3L433.7 238.5L439.3 238.3L443.6 238.6L446.6 239.4L449.6 240.8L455.6 244.4L459.9 246.6L462.9 247.9L466.0 248.5L468.1 248.6L470.7 248.4L476.3 247.2L488.7 242.3L492.6 239.7L493.0 239.5L493.9 240.1L494.3 240.2L497.3 239.1L498.2 239.0L502.5 239.8L506.8 241.0L509.8 242.0L514.1 243.7L525.6 247.2L530.4 248.0" stroke="#ff00ff" stroke-width="1.15"/>
<path d="M58.4 241.8L78.2 239.4L81.2 239.4L87.2 240.2L93.2 241.5L99.6 243.5L100.5 244.4L100.9 244.5L101.4 243.9L102.2 240.5L107.8 209.9L108.2 207.8L108.7 207.4L118.1 207.4L121.5 210.3L122.8 212.0L136.6 236.4L137.4 237.5L138.7 238.8L141.3 240.0L147.3 241.4L151.6 243.6L155.5 244.8L157.6 246.0L158.9 246.3L160.2 246.2L161.5 245.8L167.1 242.7L173.5 240.0L178.7 237.4L181.7 236.7L188.5 235.8L190.3 235.9L192.4 236.6L200.6 240.6L212.2 244.1L214.7 244.6L217.7 244.5L220.3 243.9L222.5 243.0L234.5 237.1L237.1 236.5L240.1 236.3L242.2 236.4L244.4 236.9L249.9 239.0L256.0 240.2L266.3 242.8L284.3 245.5L289.0 246.0L291.2 246.0L294.6 245.5L296.8 244.7L299.8 242.7L302.8 239.2L304.5 237.8L306.2 236.8L307.9 236.2L309.2 235.9L310.5 236.0L312.6 236.6L315.6 238.0L316.5 238.9L316.9 239.8L317.8 242.9L319.1 251.5L320.4 257.2L323.8 271.2L326.4 280.4L328.1 285.1L329.8 288.4L331.5 290.4L332.4 290.9L333.7 291.2L335.4 290.8L337.6 289.3L340.6 286.3L342.7 282.9L345.3 277.6L348.7 269.2L360.7 237.9L362.0 235.7L363.3 234.9L364.6 234.8L368.0 235.0L369.8 235.4L371.0 236.0L373.2 237.5L377.9 241.4L382.6 245.1L383.9 245.8L385.2 246.2L387.4 245.8L389.9 245.1L405.8 238.9L408.4 238.2L410.6 237.9L412.7 238.1L414.9 238.7L429.0 244.3L433.3 245.6L437.6 246.1L456.5 247.1L474.5 247.3L485.3 247.0L489.1 246.7L492.6 246.1L494.3 246.2L498.2 245.6L508.9 244.5L520.1 242.3L530.4 242.3" stroke="#00ff00" stroke-width="1.15"/>
<path d="M58.4 235.0L64.9 236.6L71.3 238.8L76.9 241.4L84.2 245.7L86.8 246.8L89.8 247.9L91.1 248.1L92.3 248.0L96.2 247.2L97.5 246.7L99.6 245.2L101.4 243.3L101.8 242.5L102.6 239.8L105.2 227.3L106.9 213.0L107.8 208.3L108.2 207.6L108.7 207.4L114.2 207.4L118.1 209.6L119.8 211.2L122.8 216.0L129.7 227.9L134.0 234.2L135.7 236.4L137.4 238.2L139.2 239.4L140.9 240.0L146.5 240.5L151.2 240.7L162.8 243.0L165.3 243.3L184.2 243.5L189.4 242.9L195.0 242.9L200.6 242.4L208.3 242.0L213.4 241.8L222.0 241.8L227.6 241.5L232.3 241.0L244.8 238.5L246.1 238.4L248.2 238.6L261.5 241.3L266.7 242.9L270.1 243.7L273.6 244.1L277.4 244.2L284.7 243.9L290.7 243.1L295.0 242.1L305.8 238.8L310.5 238.0L313.1 237.4L314.4 237.4L315.6 238.0L316.1 238.8L317.8 245.0L319.5 249.2L326.0 276.3L327.7 281.9L329.4 285.6L330.7 287.5L332.0 288.4L334.1 288.8L336.3 288.3L337.6 287.5L338.4 286.8L341.0 283.6L344.0 278.5L347.0 272.1L351.7 259.6L356.0 250.5L360.7 236.3L362.5 233.1L363.3 232.2L364.2 231.7L365.5 231.8L367.2 232.3L369.8 233.8L375.8 239.0L381.8 245.0L383.9 246.8L386.1 247.9L389.1 248.3L392.1 248.5L395.1 248.4L406.7 247.2L409.7 246.7L414.4 245.5L418.7 244.0L423.0 242.2L427.7 239.8L430.3 238.8L433.3 238.0L435.9 237.8L440.2 238.1L443.6 238.8L462.5 246.1L466.8 247.3L469.4 247.7L475.0 247.7L477.1 247.4L479.3 246.8L482.7 245.4L488.3 242.0L493.0 239.5L496.4 238.3L499.0 237.9L500.7 238.1L502.9 238.7L515.3 243.7L518.3 244.7L520.1 245.0L530.4 246.1" stroke="#000000" stroke-width="1.1"/>
<path d="M58.4 243.4L61.9 244.0L64.9 243.8L73.9 240.7L86.3 237.2L90.2 236.4L91.9 236.5L96.2 237.7L99.6 239.7L100.5 239.7L101.4 239.4L101.8 238.3L102.2 236.4L103.9 225.2L106.1 213.7L106.9 209.9L107.8 207.4L115.5 207.4L119.4 209.5L121.1 211.3L136.6 238.2L137.4 239.4L138.3 240.1L139.6 240.3L140.9 240.0L143.4 238.8L145.6 237.4L146.9 237.0L148.2 237.0L154.6 239.0L165.3 244.4L167.5 245.1L170.5 245.7L173.5 246.0L176.9 245.8L179.9 245.3L183.0 244.4L186.4 242.9L189.0 241.4L192.0 239.5L195.4 236.2L196.7 235.5L198.0 235.2L199.3 235.2L201.0 235.5L204.0 236.6L205.7 237.8L210.0 241.8L212.6 243.7L216.0 245.6L217.3 246.0L218.6 246.2L221.2 245.9L223.7 245.1L236.6 237.6L238.8 236.8L240.9 236.4L243.5 236.3L246.1 236.7L250.4 238.5L255.5 240.0L267.1 244.7L268.8 245.1L271.0 245.4L273.6 245.1L276.1 244.2L284.3 239.6L289.9 237.0L294.6 236.1L296.3 236.2L297.6 236.5L299.3 237.3L300.2 238.0L304.5 243.9L306.6 245.8L308.3 246.9L309.6 247.1L310.9 246.8L314.8 244.7L316.1 243.7L316.5 243.7L316.9 244.3L317.8 247.2L322.5 268.2L325.1 276.6L327.2 281.6L329.0 284.4L330.7 285.9L332.4 286.2L333.7 286.1L334.5 285.7L336.3 284.4L338.8 281.5L341.0 278.1L345.3 269.8L349.6 260.2L352.6 252.9L356.0 243.0L357.3 239.7L358.6 237.6L359.5 236.8L360.3 236.5L361.6 236.3L366.8 236.9L375.8 238.6L377.9 239.2L384.4 241.9L386.9 242.5L395.1 243.9L396.4 244.3L399.8 245.9L402.0 246.3L405.8 246.2L423.0 244.5L427.7 243.5L445.8 241.7L455.6 239.7L460.8 239.2L466.0 239.1L475.4 239.3L485.3 239.9L513.2 242.6L516.2 243.2L526.1 246.2L530.4 246.6" stroke="#ff0000" stroke-width="1.15"/>
</g>
<rect x="71.5" y="267.4" width="142.3" height="86.1" fill="#fff" stroke="#333333" stroke-width="1.15"/>
<path d="M74.7 276.45H103.5" stroke="#00ffff" stroke-width="1.4"/>
<text x="107.4" y="280.85" style="font-size:10px">PID</text>
<path d="M74.7 289.93H103.5" stroke="#0000ff" stroke-width="1.4"/>
<text x="107.4" y="294.33" style="font-size:10px">ARX-MPC</text>
<path d="M74.7 303.41H103.5" stroke="#ff00ff" stroke-width="1.15"/>
<text x="107.4" y="307.81" style="font-size:10px">RBF-ARX-MPC</text>
<path d="M74.7 316.89H103.5" stroke="#00ff00" stroke-width="1.15"/>
<text x="107.4" y="321.29" style="font-size:10px">CNN-ARX-MPC</text>
<path d="M74.7 330.37H103.5" stroke="#000000" stroke-width="1.1"/>
<text x="107.4" y="334.77" style="font-size:10px">LSTM-ARX-MPC</text>
<path d="M74.7 343.85H103.5" stroke="#ff0000" stroke-width="1.15"/>
<text x="107.4" y="348.25" style="font-size:10px">LSTM-CNN-ARX-MPC</text>
</svg></body></html>
